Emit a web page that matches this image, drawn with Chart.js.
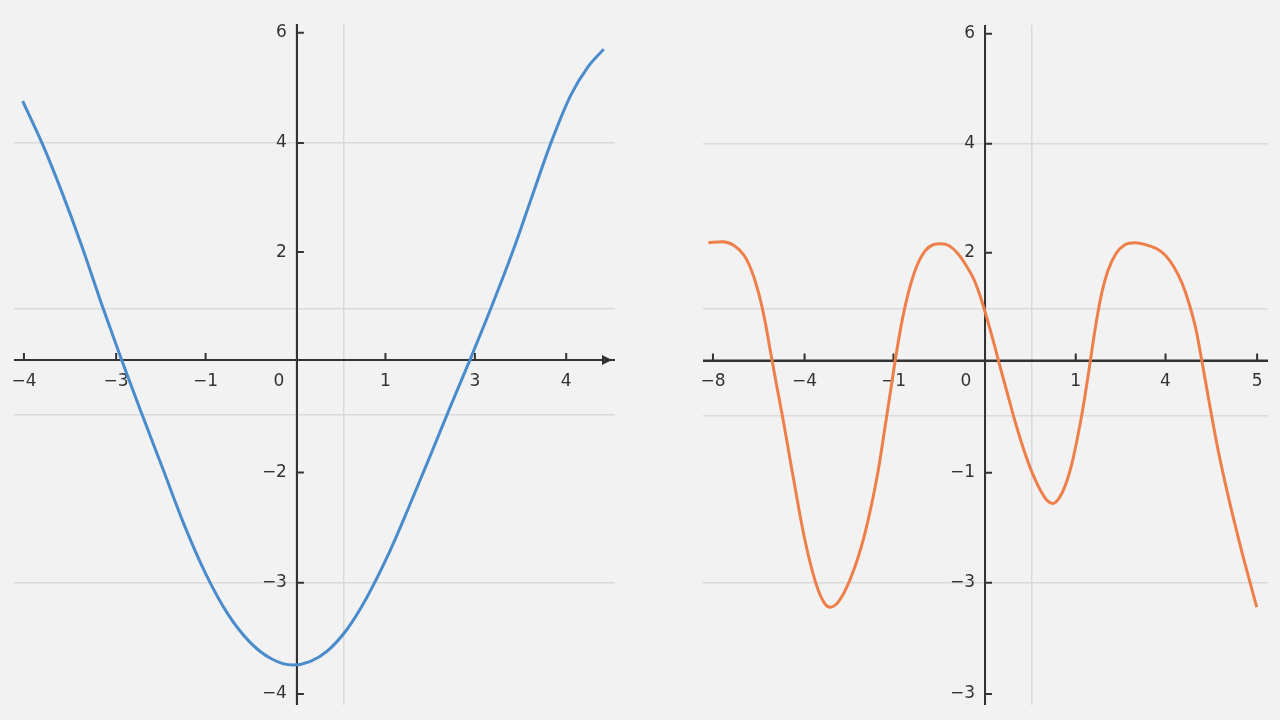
<!DOCTYPE html>
<html>
<head>
<meta charset="utf-8">
<script src="https://cdn.jsdelivr.net/npm/chart.js@4.4.1/dist/chart.umd.min.js"></script>
<style>
  html, body { margin: 0; padding: 0; background: #f2f2f2; }
  #wrap { position: relative; width: 1280px; height: 720px; overflow: hidden; }
  canvas { position: absolute; top: 0; }
</style>
</head>
<body>
<div id="wrap">
  <canvas id="leftChart" width="640" height="720" style="left:0"></canvas>
  <canvas id="rightChart" width="640" height="720" style="left:640px"></canvas>
</div>
<script>
// curve readings (x, y in axis units)
const blueX = [-3.034, -2.81, -2.6, -2.379, -2.157, -1.939, -1.715, -1.482, -1.25, -1.007, -0.763, -0.52, -0.277, -0.044,
  0.144, 0.332, 0.553, 0.774, 1.007, 1.228, 1.471, 1.693, 1.914, 2.135, 2.378, 2.588, 2.81, 3.031, 3.219, 3.396];
const blueY = [2.35, 1.951, 1.524, 1.034, 0.499, 0.0, -0.49, -0.989, -1.488, -1.942, -2.305, -2.559, -2.713, -2.768,
  -2.737, -2.644, -2.445, -2.154, -1.773, -1.356, -0.877, -0.432, 0.0, 0.445, 0.962, 1.452, 1.969, 2.405, 2.659, 2.822];

const orangeX = [-3.051, -2.896, -2.764, -2.654, -2.566, -2.489, -2.423, -2.368, -2.302, -2.225, -2.148, -2.07, -1.993, -1.916,
  -1.839, -1.762, -1.707, -1.641, -1.564, -1.487, -1.41, -1.333, -1.256, -1.178, -1.112, -1.046, -0.991, -0.925, -0.848,
  -0.76, -0.661, -0.573, -0.485, -0.396, -0.308, -0.22, -0.132, -0.055, 0.022, 0.099, 0.165, 0.253, 0.341, 0.43, 0.518,
  0.606, 0.683, 0.749, 0.815, 0.881, 0.947, 1.013, 1.079, 1.145, 1.211, 1.278, 1.355, 1.443, 1.542, 1.652, 1.773, 1.894,
  1.993, 2.081, 2.17, 2.247, 2.324, 2.39, 2.478, 2.566, 2.654, 2.742, 2.83, 2.918, 2.996];
const orangeY = [1.071, 1.08, 1.044, 0.953, 0.799, 0.59, 0.345, 0.091, -0.209, -0.544, -0.907, -1.27, -1.606, -1.878,
  -2.087, -2.214, -2.241, -2.214, -2.123, -1.987, -1.815, -1.597, -1.325, -0.998, -0.653, -0.299, 0.0, 0.318, 0.608,
  0.844, 0.998, 1.053, 1.062, 1.044, 0.98, 0.88, 0.753, 0.59, 0.381, 0.154, -0.054, -0.318, -0.581, -0.817, -1.016,
  -1.171, -1.27, -1.298, -1.252, -1.143, -0.971, -0.726, -0.436, -0.091, 0.272, 0.581, 0.817, 0.971, 1.053, 1.071, 1.053, 1.016,
  0.953, 0.853, 0.708, 0.526, 0.29, 0.0, -0.408, -0.799, -1.134, -1.443, -1.733, -2.005, -2.241];

// tick positions and their printed labels
const leftXTicks = [-3.02, -2.0, -1.01, -0.2, 0.98, 1.97, 2.98];
const leftXLabels = ["−4", "−3", "−1", "0", "1", "3", "4"];
const leftYTicks = [2.97, 1.97, 0.98, -1.02, -2.02, -3.03];
const leftYLabels = ["6", "4", "2", "−2", "−3", "−4"];

const rightXTicks = [-3.0, -1.99, -1.01, -0.21, 1.0, 1.99, 3.0];
const rightXLabels = ["−8", "−4", "−1", "0", "1", "4", "5"];
const rightYTicks = [2.97, 1.97, 0.98, -1.02, -2.02, -3.03];
const rightYLabels = ["6", "4", "2", "−1", "−3", "−3"];

// light grid lines
const xGridLines = [0.52];
const yGridLines = [1.97, 0.47, -0.5, -2.02];

const axisColor = "#333333";
const gridColor = "#dadada";
const font = { family: "DejaVu Sans", size: 17 };

const near = (a, b) => Math.abs(a - b) < 0.001;
const toPoints = (xs, ys) => xs.map((x, i) => ({ x: x, y: ys[i] }));
const tickList = (vals) =>
  [...vals, 0]
    .filter((v, i, arr) => arr.findIndex((w) => near(w, v)) === i)
    .sort((a, b) => a - b)
    .map((v) => ({ value: v }));

function gridStyle(gridVals) {
  return {
    drawTicks: false,
    color: (c) => {
      if (near(c.tick.value, 0)) return axisColor;
      return gridVals.some((g) => near(g, c.tick.value)) ? gridColor : "transparent";
    },
    lineWidth: (c) => (near(c.tick.value, 0) ? 2 : 1.5),
  };
}

function makeScales(xRange, yRange, xTicks, xLabels, yTicks, yLabels) {
  return {
    x: {
      type: "linear",
      min: xRange[0],
      max: xRange[1],
      position: { y: 0 },
      afterFit: (s) => { s.height = 0; },
      afterBuildTicks: (s) => { s.ticks = tickList([...xTicks, ...xGridLines]); },
      ticks: {
        autoSkip: false,
        maxRotation: 0,
        padding: 11,
        color: axisColor,
        font: font,
        callback: (v) => {
          const i = xTicks.findIndex((t) => near(t, v));
          return i >= 0 ? xLabels[i] : "";
        },
      },
      grid: gridStyle(xGridLines),
      border: { display: false },
    },
    y: {
      type: "linear",
      min: yRange[0],
      max: yRange[1],
      position: { x: -0.11 },
      afterFit: (s) => { s.width = 0; },
      afterBuildTicks: (s) => { s.ticks = tickList([...yTicks, ...yGridLines]); },
      ticks: {
        autoSkip: false,
        padding: 0,
        color: axisColor,
        font: font,
        callback: (v) => {
          const i = yTicks.findIndex((t) => near(t, v));
          return i >= 0 ? yLabels[i] : "";
        },
      },
      grid: gridStyle(yGridLines),
      border: { display: false },
    },
  };
}

// axis lines on top of the light grid, small tick marks, optional arrow head
function axisMarks(xMarks, yMarks, arrow) {
  return {
    id: "axisMarks",
    beforeDatasetsDraw(chart) {
      const ctx = chart.ctx;
      const area = chart.chartArea;
      const xs = chart.scales.x;
      const ys = chart.scales.y;
      const x0 = xs.getPixelForValue(0);
      const y0 = ys.getPixelForValue(0);
      ctx.save();
      ctx.strokeStyle = axisColor;
      ctx.fillStyle = axisColor;
      ctx.lineWidth = 2;
      ctx.beginPath();
      ctx.moveTo(x0, area.top);
      ctx.lineTo(x0, area.bottom);
      ctx.moveTo(area.left, y0);
      ctx.lineTo(arrow ? area.right - 6 : area.right, y0);
      xMarks.forEach((v) => {
        const px = xs.getPixelForValue(v);
        ctx.moveTo(px, y0);
        ctx.lineTo(px, y0 - 7);
      });
      yMarks.forEach((v) => {
        const py = ys.getPixelForValue(v);
        ctx.moveTo(x0, py);
        ctx.lineTo(x0 + 7, py);
      });
      ctx.stroke();
      if (arrow) {
        const tip = area.right - 3;
        ctx.beginPath();
        ctx.moveTo(tip, y0);
        ctx.lineTo(tip - 10, y0 - 5);
        ctx.lineTo(tip - 10, y0 + 5);
        ctx.closePath();
        ctx.fill();
      }
      ctx.restore();
    },
  };
}

const leftChart = new Chart(document.getElementById("leftChart"), {
  type: "scatter",
  data: {
    datasets: [
      {
        data: toPoints(blueX, blueY),
        showLine: true,
        borderColor: "#4a8bcc",
        borderWidth: 3,
        pointRadius: 0,
        cubicInterpolationMode: "monotone",
      },
    ],
  },
  options: {
    responsive: false,
    animation: false,
    layout: { padding: { left: 14, right: 25, top: 24, bottom: 15 } },
    plugins: { legend: { display: false }, tooltip: { enabled: false } },
    scales: makeScales([-3.13, 3.52], [-3.13, 3.05], leftXTicks, leftXLabels, leftYTicks, leftYLabels),
  },
  plugins: [axisMarks(leftXTicks.filter((v) => v !== -0.2), leftYTicks, true)],
});

const rightChart = new Chart(document.getElementById("rightChart"), {
  type: "scatter",
  data: {
    datasets: [
      {
        data: toPoints(orangeX, orangeY),
        showLine: true,
        borderColor: "#ee7f4a",
        borderWidth: 3,
        pointRadius: 0,
        cubicInterpolationMode: "monotone",
      },
    ],
  },
  options: {
    responsive: false,
    animation: false,
    layout: { padding: { left: 63, right: 12, top: 25, bottom: 15 } },
    plugins: { legend: { display: false }, tooltip: { enabled: false } },
    scales: makeScales([-3.11, 3.12], [-3.13, 3.05], rightXTicks, rightXLabels, rightYTicks, rightYLabels),
  },
  plugins: [axisMarks(rightXTicks.filter((v) => v !== -0.21), rightYTicks, false)],
});
</script>
</body>
</html>
